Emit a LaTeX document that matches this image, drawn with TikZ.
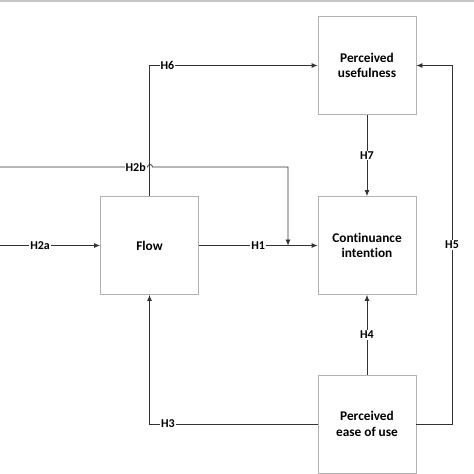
\documentclass[tikz,border=0pt]{standalone}
\usepackage{fontspec}
\setmainfont{Carlito}[Ligatures=NoCommon]
\usetikzlibrary{arrows.meta}
\tikzset{
  box/.style={draw=black!30, line width=0.8pt, minimum width=98pt, minimum height=98pt,
    align=center, font=\fontsize{13.3}{15.7}\selectfont\bfseries, inner sep=0pt},
  conn/.style={draw=black!80, line width=0.8pt},
  arr/.style={conn, -{Latex[length=6pt,width=5pt]}},
  lab/.style={fill=white, inner sep=1pt, font=\fontsize{12}{13}\selectfont\bfseries, text=black}
}
\begin{document}
\begin{tikzpicture}[x=1pt,y=-1pt]
\useasboundingbox (0,0) rectangle (474,474);
\fill[black!22] (0,0) rectangle (474,2);
\node[box] (pu) at (367,65.5) {Perceived\\usefulness};
\node[box] (ci) at (367,245.5) {Continuance\\intention};
\node[box] (flow) at (149.5,245.5) {Flow};
\node[box] (peu) at (367,424) {Perceived\\ease of use};
\coordinate (l2a) at (0,245.5);
\coordinate (l2b) at (0,167);
\coordinate (h2bc) at (288,167);
\coordinate (h5a) at (452,424);
\coordinate (h5b) at (452,65.5);
% H6
\draw[arr] (flow.north) -- (flow.north |- pu.west) -- node[lab,pos=0.107]{H6} (pu.west);
% H2b
\draw[arr] (l2b) -- node[lab,pos=0.92]{H2b} (147.5,167) arc (180:0:2.5pt) -- (h2bc) -- (h2bc |- flow.east);
% H2a
\draw[arr] (l2a) -- node[lab,pos=0.4]{H2a} (flow.west);
% H1
\draw[arr] (flow.east) -- node[lab,pos=0.5]{H1} (ci.west);
% H7
\draw[arr] (pu.south) -- node[lab]{H7} (ci.north);
% H4
\draw[arr] (peu.north) -- node[lab]{H4} (ci.south);
% H3
\draw[arr] (peu.west) -- node[lab,pos=0.89]{H3} (flow.south |- peu.west) -- (flow.south);
% H5
\draw[arr] (peu.east) -- (h5a) -- node[lab,pos=0.5]{H5} (h5b) -- (pu.east);
\end{tikzpicture}
\end{document}
